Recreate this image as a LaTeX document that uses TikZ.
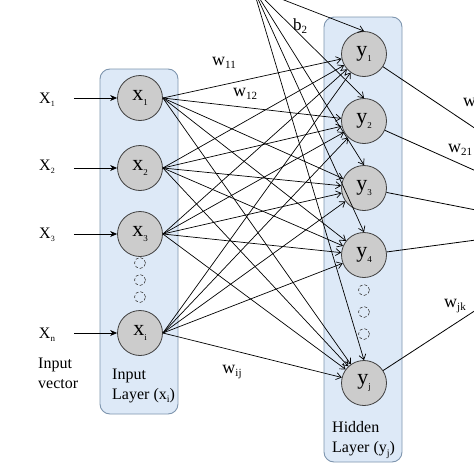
\documentclass[tikz,border=0pt]{standalone}
\usepackage{fontspec}
\setmainfont{Liberation Serif}
\usetikzlibrary{arrows.meta,positioning}

\definecolor{boxfill}{HTML}{DDE9F7}
\definecolor{boxedge}{HTML}{7E95AE}
\newcommand{\lsub}[2]{\raisebox{-0.45ex}{\fontsize{#1}{#1}\selectfont #2}}

\begin{document}
\begin{tikzpicture}[
  x=1pt, y=-1pt,
  layerbox/.style={draw=boxedge, fill=boxfill, rounded corners=10pt, line width=0.9pt},
  neuron/.style={circle, draw=black!75, fill=gray!40, line width=0.8pt, minimum size=45pt, inner sep=0pt, font=\fontsize{22}{22}\selectfont},
  gap/.style={circle, draw=black!75, densely dashed, line width=0.6pt, minimum size=11pt, inner sep=0pt},
  inlabel/.style={font=\fontsize{16}{16}\selectfont, inner sep=1pt},
  wlabel/.style={font=\fontsize{18}{18}\selectfont, inner sep=0pt},
  caption/.style={align=left, font=\fontsize{16}{20}\selectfont, inner sep=0pt, anchor=west},
  feed/.style={-{Stealth[length=7pt,width=6pt]}, line width=0.8pt},
  link/.style={-{Straight Barb[length=5pt,width=7pt]}, line width=0.7pt},
  outlink/.style={line width=0.8pt}
]
  \useasboundingbox (0,0) rectangle (474,474);
  \clip (0,0) rectangle (474,474);

  % Layer boxes
  \draw[layerbox] (100,69) rectangle (178,414);
  \draw[layerbox] (324,17) rectangle (402,462);

  % Input layer
  \node[neuron] (x1) at (140,98) {x\lsub{9}{1}};
  \node[neuron] (x2) at (140,168) {x\lsub{9}{2}};
  \node[neuron] (x3) at (140,234) {x\lsub{9}{3}};
  \node[neuron] (xi) at (140,333) {x\lsub{9}{i}};
  \node[gap] (dx1) at (140,263) {};
  \node[gap] (dx2) at (140,280) {};
  \node[gap] (dx3) at (140,297) {};

  % Hidden layer
  \node[neuron] (y1) at (364,54) {y\lsub{9}{1}};
  \node[neuron] (y2) at (364,121) {y\lsub{9}{2}};
  \node[neuron] (y3) at (364,188) {y\lsub{9}{3}};
  \node[neuron] (y4) at (364,255) {y\lsub{9}{4}};
  \node[neuron] (yj) at (364,383) {y\lsub{9}{j}};
  \node[gap] (dy1) at (364,290) {};
  \node[gap] (dy2) at (364,312) {};
  \node[gap] (dy3) at (364,334) {};

  % Input vector
  \node[inlabel] (X1) at (47,100) {X\lsub{8}{1}};
  \node[inlabel] (X2) at (47,167) {X\lsub{8}{2}};
  \node[inlabel] (X3) at (47,235) {X\lsub{8}{3}};
  \node[inlabel] (Xn) at (47,335) {X\lsub{9}{n}};
  \foreach \s/\t in {X1/x1,X2/x2,X3/x3,Xn/xi}
    \draw[feed, shorten <=18pt] (\s.east |- \t.west) -- (\t.west);

  % Weights input -> hidden
  \foreach \s in {x1,x2,x3,xi}
    \foreach \t in {y1,y2,y3,y4,yj}
      \draw[link] (\s.east) -- (\t);

  % Bias
  \coordinate (bias) at (253,-12);
  \foreach \t in {y1,y2,y3,y4,yj}
    \draw[link] (bias) -- (\t.north);

  % Hidden -> output (off the picture)
  \coordinate (o1) at (476,129);
  \coordinate (o2) at (476,171);
  \coordinate (o3) at (476,210);
  \coordinate (o4) at (476,240);
  \coordinate (oj) at (476,310);
  \foreach \s/\t in {y1/o1,y2/o2,y3/o3,y4/o4,yj/oj}
    \draw[outlink] (\s) -- (\t);

  % Labels
  \node[wlabel] (w11) at (224,63) {w\lsub{11}{11}};
  \node[wlabel] (w12) at (245,94) {w\lsub{11}{12}};
  \node[wlabel] (wij) at (232,372) {w\lsub{11}{ij}};
  \node[wlabel, font=\fontsize{17}{17}\selectfont] (b1) at (300,-8) {b\lsub{11}{1}};
  \node[wlabel, font=\fontsize{17}{17}\selectfont] (b2) at (300,26) {b\lsub{11}{2}};
  \node[wlabel, anchor=west] (w11o) at (463,104) {w\lsub{11}{11}};
  \node[wlabel, anchor=west] (w21) at (448,150) {w\lsub{11}{21}};
  \node[wlabel, anchor=west] (wjk) at (444,306) {w\lsub{11}{jk}};

  % Captions
  \node[caption] (invec) at (38,373) {Input\\vector};
  \node[caption] (inlay) at (112,386) {Input\\Layer (x\lsub{10}{i})};
  \node[caption] (hidlay) at (332,440) {Hidden\\Layer (y\lsub{10}{j})};
\end{tikzpicture}
\end{document}
